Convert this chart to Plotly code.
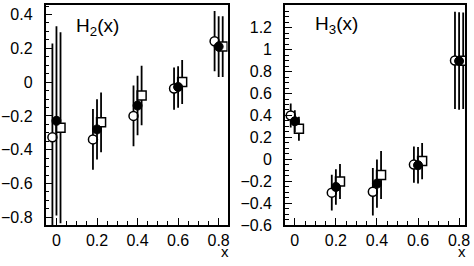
import plotly.graph_objects as go

x_groups = [0.0, 0.2, 0.4, 0.6, 0.8]

# H2(x) panel
h2_open = [-0.326, -0.339, -0.200, -0.038, 0.242]
h2_open_err = [0.555, 0.180, 0.180, 0.125, 0.178]
h2_fill = [-0.229, -0.280, -0.139, -0.029, 0.210]
h2_fill_err = [0.560, 0.178, 0.176, 0.123, 0.180]
h2_sq = [-0.270, -0.238, -0.080, 0.000, 0.210]
h2_sq_err = [0.565, 0.177, 0.176, 0.130, 0.180]

# H3(x) panel
h3_open = [0.400, -0.304, -0.296, -0.048, 0.902]
h3_open_err = [0.110, 0.163, 0.217, 0.165, 0.443]
h3_fill = [0.347, -0.252, -0.222, -0.054, 0.896]
h3_fill_err = [0.100, 0.162, 0.220, 0.167, 0.445]
h3_sq = [0.279, -0.202, -0.143, -0.016, 0.900]
h3_sq_err = [0.110, 0.160, 0.218, 0.166, 0.440]

x_tick_vals = [0, 0.2, 0.4, 0.6, 0.8]
x_tick_text = ["0", "0.2", "0.4", "0.6", "0.8"]
h2_y_ticks = [-0.8, -0.6, -0.4, -0.2, 0, 0.2, 0.4]
h3_y_ticks = [-0.6, -0.4, -0.2, 0, 0.2, 0.4, 0.6, 0.8, 1.0, 1.2, 1.4]

offsets = {"open": -0.02, "fill": 0.0, "sq": 0.02}

FONT = "Liberation Sans"

fig = go.Figure()


def add_series(vals, errs, kind, xa, ya):
    xs = [x + offsets[kind] for x in x_groups]
    if kind == "open":
        marker = dict(symbol="circle", size=9, color="white", line=dict(color="black", width=1.5))
    elif kind == "fill":
        marker = dict(symbol="circle", size=9, color="black", line=dict(color="black", width=1))
    else:
        marker = dict(symbol="square", size=9, color="white", line=dict(color="black", width=1.5))
    fig.add_trace(go.Scatter(
        x=xs, y=vals, mode="markers", marker=marker,
        error_y=dict(type="data", array=errs, visible=True, color="black", thickness=1.8, width=0),
        xaxis=xa, yaxis=ya, showlegend=False, cliponaxis=True,
    ))


for vals, errs, kind in [(h2_open, h2_open_err, "open"), (h2_sq, h2_sq_err, "sq"), (h2_fill, h2_fill_err, "fill")]:
    add_series(vals, errs, kind, "x", "y")
for vals, errs, kind in [(h3_open, h3_open_err, "open"), (h3_sq, h3_sq_err, "sq"), (h3_fill, h3_fill_err, "fill")]:
    add_series(vals, errs, kind, "x2", "y2")

W, H = 474, 266
ydom = [(H - 233) / H, (H - 5) / H]

common_x = dict(
    showgrid=False, zeroline=False, showline=True, linecolor="black", linewidth=1.5, mirror=True,
    ticks="inside", ticklen=7, tickwidth=1, tickcolor="black",
    tickvals=x_tick_vals, ticktext=x_tick_text,
    minor=dict(ticks="inside", ticklen=4, dtick=0.05, tick0=0, tickcolor="black", tickwidth=1),
    tickfont=dict(family=FONT, size=16, color="black"), ticklabelstandoff=0,
)
common_y = dict(
    showgrid=False, zeroline=False, showline=True, linecolor="black", linewidth=1.5, mirror=True,
    ticks="inside", ticklen=7, tickwidth=1, tickcolor="black",
    minor=dict(ticks="inside", ticklen=4, dtick=0.05, tick0=0, tickcolor="black", tickwidth=1),
    tickfont=dict(family=FONT, size=16, color="black"), ticklabelstandoff=8,
)

fig.update_layout(
    width=W, height=H, margin=dict(l=0, r=0, t=0, b=0),
    paper_bgcolor="white", plot_bgcolor="white",
    xaxis=dict(domain=[46 / W, 230 / W], range=[-0.054, 0.844], anchor="y", **common_x),
    yaxis=dict(domain=ydom, range=[-0.846, 0.457], anchor="x",
               tickvals=h2_y_ticks, ticktext=[f"{v:.1f}".replace("-", "\u2212") if v != 0 else "0" for v in h2_y_ticks],
               **common_y),
    xaxis2=dict(domain=[288 / W, 470 / W], range=[-0.048, 0.829], anchor="y2", **common_x),
    yaxis2=dict(domain=ydom, range=[-0.6, 1.409], anchor="x2",
                tickvals=h3_y_ticks,
                ticktext=[("0" if v == 0 else ("1" if v == 1 else f"{v:.1f}".replace("-", "\u2212"))) for v in h3_y_ticks],
                **common_y),
    annotations=[
        dict(text="H<sub>2</sub>(x)", x=99 / W, y=1 - 28 / H, xref="paper", yref="paper",
             showarrow=False, font=dict(family=FONT, size=19, color="black"), xanchor="center", yanchor="middle"),
        dict(text="H<sub>3</sub>(x)", x=340 / W, y=1 - 26 / H, xref="paper", yref="paper",
             showarrow=False, font=dict(family=FONT, size=19, color="black"), xanchor="center", yanchor="middle"),
        dict(text="x", x=227 / W, y=0, xref="paper", yref="paper", borderpad=0, yshift=-4,
             showarrow=False, font=dict(family=FONT, size=15, color="black"), xanchor="center", yanchor="bottom"),
        dict(text="x", x=467 / W, y=0, xref="paper", yref="paper", borderpad=0, yshift=-4,
             showarrow=False, font=dict(family=FONT, size=15, color="black"), xanchor="center", yanchor="bottom"),
    ],
)

fig.write_html("out.html")
